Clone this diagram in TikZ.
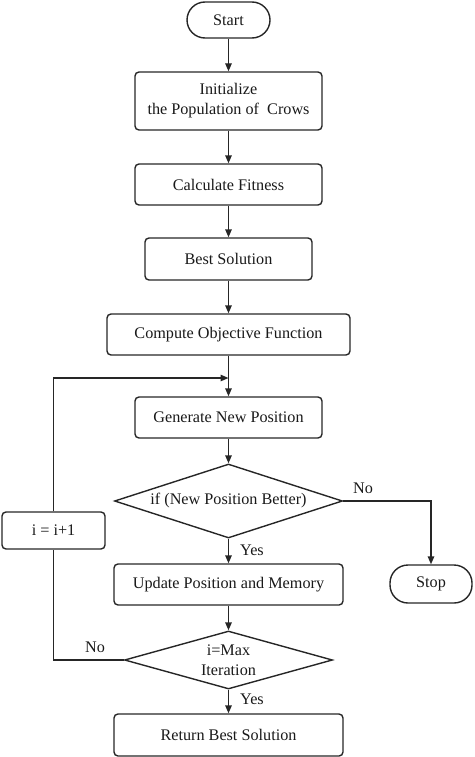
\documentclass[tikz,border=0pt]{standalone}
\usepackage{fontspec}
\setmainfont{Liberation Serif}
\usetikzlibrary{shapes.geometric,arrows.meta}
\begin{document}
\begin{tikzpicture}[x=1pt,y=-1pt,
  every node/.style={font=\fontsize{16.2}{20}\selectfont, text=black!90},
  box/.style={draw=black!85, line width=1.4pt, rounded corners=4pt, inner sep=0pt, align=center},
  term/.style={draw=black!85, line width=1.4pt, rounded corners=18pt, inner sep=0pt},
  dec/.style={draw=black!85, line width=1.4pt, diamond, inner sep=0pt, align=center},
  arr/.style={draw=black!85, line width=1.4pt, -{Triangle[length=8pt,width=6.5pt]}},
  ln/.style={draw=black!85, line width=1.4pt},
  lab/.style={inner sep=0pt}]
\useasboundingbox (0,0) rectangle (474,757);
\node[term, minimum width=83pt, minimum height=36pt] (start) at (228.5,20) {Start};
\node[box, minimum width=187pt, minimum height=58pt] (init) at (228.5,101) {Initialize\\the Population of~ Crows};
\node[box, minimum width=187pt, minimum height=41pt] (calc) at (228.5,184.5) {Calculate Fitness};
\node[box, minimum width=167pt, minimum height=42pt] (best) at (228.5,259) {Best Solution};
\node[box, minimum width=243pt, minimum height=41pt] (comp) at (228.5,334.5) {Compute Objective Function};
\node[box, minimum width=187pt, minimum height=41pt] (gen) at (228.5,417.5) {Generate New Position};
\node[dec, shape aspect=3.1, minimum width=228pt, minimum height=74pt] (d1) at (228.5,501) {if (New Position Better)};
\node[box, minimum width=229pt, minimum height=41pt] (upd) at (228.5,584.5) {Update Position and Memory};
\node[dec, shape aspect=3.6, minimum width=208pt, minimum height=58pt] (d2) at (228.5,660) {i=Max\\Iteration};
\node[box, minimum width=229pt, minimum height=42pt] (ret) at (228.5,735) {Return Best Solution};
\node[box, minimum width=103pt, minimum height=37pt] (inc) at (53.5,530.5) {i = i+1};
\node[term, minimum width=82pt, minimum height=38pt] (stop) at (431,584) {Stop};
\coordinate (loop) at (228.5,378);

\draw[arr] (start) -- (init);
\draw[arr] (init) -- (calc);
\draw[arr] (calc) -- (best);
\draw[arr] (best) -- (comp);
\draw[arr] (comp) -- (gen);
\draw[arr] (gen) -- (d1);
\draw[arr] (d1) -- (upd);
\draw[arr] (d1.east) -| (stop.north);
\draw[arr] (upd) -- (d2);
\draw[arr] (d2) -- (ret);
\draw[ln] (d2.west) -| (inc.south);
\draw[arr] (inc.north) |- (loop);

\node[lab] (no1) at (363,488) {No};
\node[lab] (yes1) at (252,550) {Yes};
\node[lab] (no2) at (95,647) {No};
\node[lab] (yes2) at (252,699) {Yes};
\end{tikzpicture}
\end{document}
